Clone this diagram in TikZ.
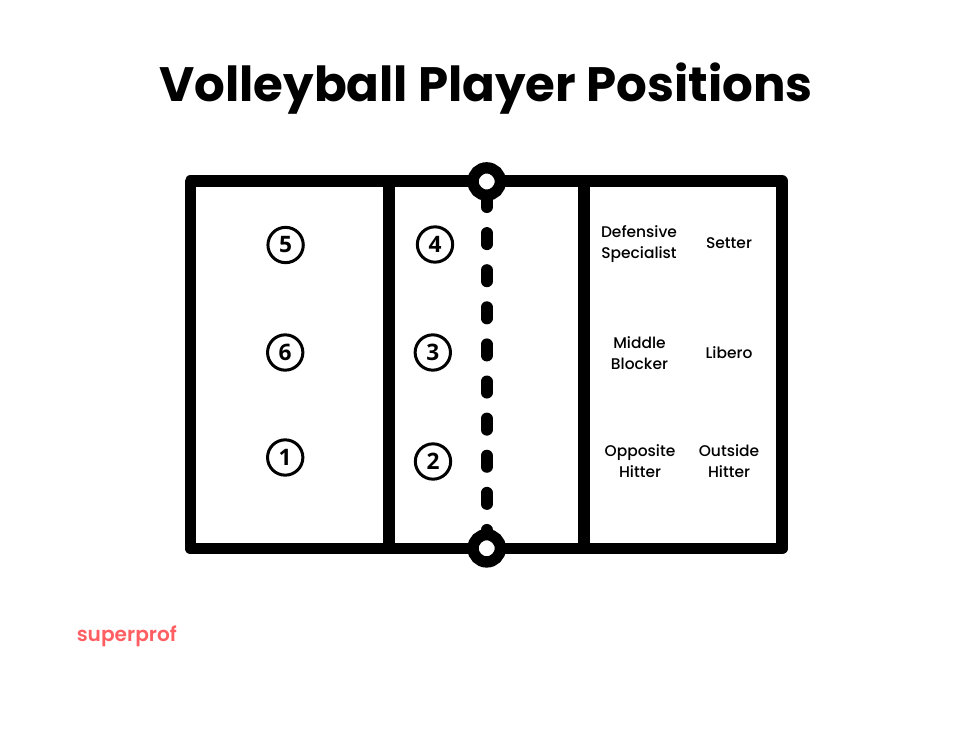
\documentclass[tikz,border=0pt]{standalone}
\usepackage{fontspec}
\setmainfont{Poppins}
\newfontfamily\titlefont{Poppins}[UprightFont=* Bold]
\newfontfamily\medfont{Poppins}[UprightFont=* Medium]
\newfontfamily\semifont{Poppins}[UprightFont=* SemiBold]
\newfontfamily\digitfont{Open Sans}[UprightFont=* Bold]
\definecolor{brand}{HTML}{FF5E62}
\tikzset{
  court/.style={line width=8.85pt, line join=round},
  netring/.style={line width=8.5pt, fill=white},
  netdash/.style={line width=8.8pt, line cap=round, dash pattern=on 8.48pt off 19.35pt, dash phase=17.07pt},
  numc/.style={circle, draw, line width=2.25pt, minimum size=26.5pt, inner sep=0pt,
    font=\digitfont\fontsize{17}{17}\selectfont},
  role/.style={align=center, inner sep=0pt, font=\medfont\fontsize{11.6}{15.75}\selectfont},
}
\begin{document}
\begin{tikzpicture}[x=0.75pt, y=-0.75pt]
\useasboundingbox (0,0) rectangle (973,730);
% title
\node[anchor=base, inner sep=0pt, font=\titlefont\fontsize{36.2}{36.2}\selectfont] (title) at (486,101.7) {Volleyball Player Positions};
% court
\coordinate (c1) at (190.5,181.3);
\coordinate (c2) at (782.2,548.5);
\draw[court] (c1) rectangle (c2);
\coordinate (v1t) at (389,181.3);
\coordinate (v1b) at (389,548.5);
\coordinate (v2t) at (584.3,181.3);
\coordinate (v2b) at (584.3,548.5);
\draw[court] (v1t) -- (v1b);
\draw[court] (v2t) -- (v2b);
% net
\coordinate (nt) at (486.7,181.5);
\coordinate (nb) at (486.7,548.3);
\draw[netdash] (nt) -- (nb);
\draw[netring] (nt) circle (13.65);
\draw[netring] (nb) circle (13.65);
% positions
\node[numc] (p5) at (285.6,245) {5};
\node[numc] (p6) at (285.2,352.5) {6};
\node[numc] (p1) at (285.2,457.5) {1};
\node[numc] (p4) at (435,244.5) {4};
\node[numc] (p3) at (432.8,352.5) {3};
\node[numc] (p2) at (433,461.5) {2};
% roles
\node[role] (ds) at (639,244.5) {Defensive\\Specialist};
\node[role] (st) at (729,243) {Setter};
\node[role] (mb) at (639.5,353) {Middle\\Blocker};
\node[role] (lb) at (729,353) {Libero};
\node[role] (oh1) at (640,461.5) {Opposite\\Hitter};
\node[role] (oh2) at (729,461.5) {Outside\\Hitter};
% logo
\node[anchor=base west, inner sep=0pt, text=brand, font=\semifont\fontsize{15.1}{15.1}\selectfont] (logo) at (76.5,641.7) {superprof};
\end{tikzpicture}
\end{document}
